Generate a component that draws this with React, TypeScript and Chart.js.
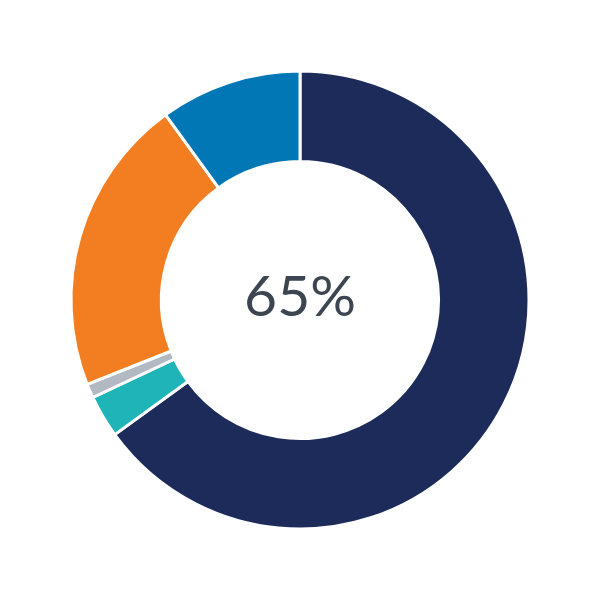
import React, { useEffect, useRef } from "react";
import { Chart, registerables } from "chart.js";

Chart.register(...registerables);

const categories = ["Navy", "Teal", "Gray", "Orange", "Blue"];
const values = [65, 3, 1, 21, 10];
const colors = ["#1c2b5a", "#1eb4b8", "#b3b9c3", "#f37e21", "#0177b6"];
const centerLabel = "65%";

export default function App() {
  const ref = useRef<HTMLCanvasElement | null>(null);
  useEffect(() => {
    document.body.style.margin = "0";
    const chart = new Chart(ref.current!, {
      type: "doughnut",
      data: {
        labels: categories,
        datasets: [
          {
            data: values,
            backgroundColor: colors,
            borderColor: "#ffffff",
            borderWidth: 3,
            hoverOffset: 0,
          },
        ],
      },
      options: {
        responsive: false,
        animation: false,
        radius: 229,
        cutout: "60.5%",
        plugins: { legend: { display: false }, tooltip: { enabled: false } },
      },
    });
    return () => chart.destroy();
  }, []);
  return (
    <div style={{ position: "relative", width: 600, height: 600, background: "#fff" }}>
      <canvas ref={ref} width={600} height={600} style={{ width: 600, height: 600 }} />
      <div
        style={{
          position: "absolute",
          left: 0,
          top: 0,
          width: 600,
          height: 600,
          display: "flex",
          alignItems: "center",
          justifyContent: "center",
          fontFamily: "Lato, sans-serif",
          fontSize: 57,
          color: "#3d4650",
          lineHeight: 1,
          paddingBottom: 12,
          boxSizing: "border-box",
        }}
      >
        {centerLabel}
      </div>
    </div>
  );
}
